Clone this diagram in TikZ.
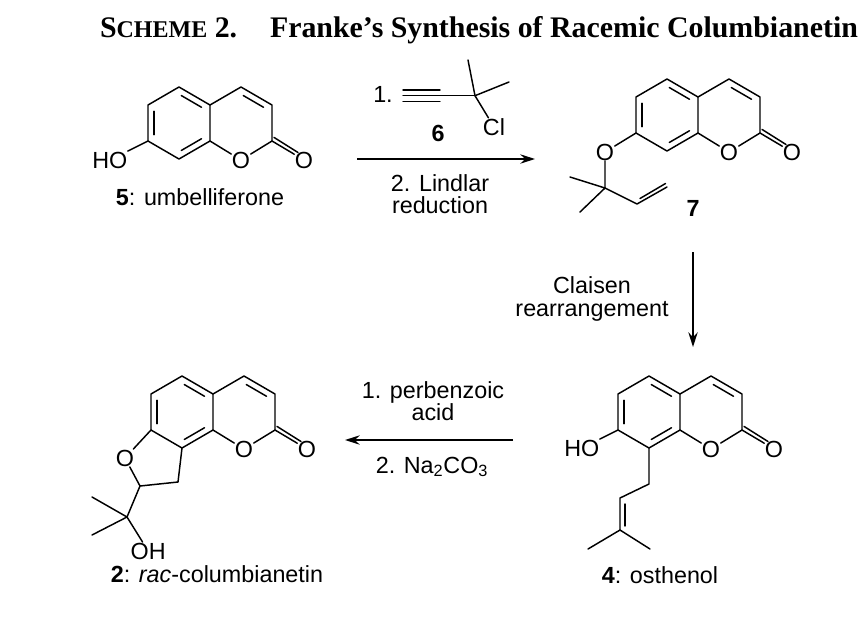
\documentclass[tikz,border=0pt]{standalone}
\usepackage{fontspec}
\setmainfont{Liberation Sans}
\newfontfamily\titlefont{Liberation Serif}
\usetikzlibrary{calc,arrows.meta}
\tikzset{
  bond/.style={line width=1.1pt,line cap=round,line join=round},
  inb/.style={bond,shorten <=2pt,shorten >=2pt},
  atom/.style={inner sep=0.3pt,font=\fontsize{17.5pt}{17pt}\selectfont},
  lbl/.style={inner sep=1pt,font=\fontsize{17.5pt}{17pt}\selectfont,align=center},
  rxn/.style={line width=1.1pt,-{Stealth[length=11pt,width=7pt]}}
}
\newcommand\coum[3]{%
 \coordinate (#1a4) at (#2,#3-18);
 \coordinate (#1a8) at (#2,#3+18);
 \coordinate (#1c5) at (#2-31,#3-36);
 \coordinate (#1c6) at (#2-62,#3-18);
 \coordinate (#1c7) at (#2-62,#3+18);
 \coordinate (#1c8) at (#2-31,#3+36);
 \coordinate (#1c4) at (#2+31,#3-36);
 \coordinate (#1c3) at (#2+62,#3-18);
 \coordinate (#1c2) at (#2+62,#3+18);
 \coordinate (#1cl) at (#2-31,#3);
 \coordinate (#1cr) at (#2+31,#3);
 \node[atom] (#1o1) at (#2+31,#3+37) {O};
 \node[atom] (#1oe) at (#2+94,#3+37) {O};
 \draw[bond] (#1a4)--(#1c5)--(#1c6)--(#1c7)--(#1c8)--(#1a8)--cycle;
 \draw[bond] (#1a4)--(#1c4)--(#1c3)--(#1c2)--(#1o1)--(#1a8);
 \draw[bond] (#1c2)--(#1oe);
 \draw[bond] ($(#1c2)+(2,-3.6)$)--($(#1oe)+(-6,-7.5)$);
 \draw[inb] ($(#1c6)!0.2!(#1cl)$)--($(#1c7)!0.2!(#1cl)$);
 \draw[inb] ($(#1c5)!0.2!(#1cl)$)--($(#1a4)!0.2!(#1cl)$);
 \draw[inb] ($(#1c8)!0.2!(#1cl)$)--($(#1a8)!0.2!(#1cl)$);
 \draw[inb] ($(#1c4)!0.2!(#1cr)$)--($(#1c3)!0.2!(#1cr)$);
}
\begin{document}
\begin{tikzpicture}[x=0.75pt,y=-0.75pt]
\useasboundingbox (0,0) rectangle (866,622);
% title
\node[inner sep=0pt,font=\titlefont\bfseries\fontsize{22.4pt}{26pt}\selectfont] (title) at (479,30)
  {S{\fontsize{18pt}{20pt}\selectfont CHEME} 2.\hspace{1.1em}Franke’s Synthesis of Racemic Columbianetin};
% compound 5
\coum{a}{210}{123}
\node[atom,anchor=east] (aho) at (128,160) {HO};
\draw[bond] (ac7)--(aho);
\node[lbl] (acap) at (200,197) {\textbf{5}: umbelliferone};
% reagents top
\node[lbl] (r1) at (383,94) {1.};
\coordinate (t1) at (403,95.7);
\coordinate (tq) at (475,95.7);
\coordinate (tm1) at (468,60);
\coordinate (tm2) at (509,82);
\draw[bond] (t1)--(tq);
\draw[bond] ($(t1)+(0,-5.8)$)--($(t1)+(37,-5.8)$);
\draw[bond] ($(t1)+(0,5.8)$)--($(t1)+(37,5.8)$);
\draw[bond] (tq)--(tm1);
\draw[bond] (tq)--(tm2);
\node[atom] (tcl) at (494,127) {Cl};
\draw[bond] (tq)--(tcl);
\node[lbl] (six) at (438,133) {\textbf{6}};
\coordinate (ar1s) at (357,159);
\coordinate (ar1e) at (535,159);
\draw[rxn] (ar1s)--(ar1e);
\node[lbl] (r2) at (440,194) {2. Lindlar\\reduction};
% compound 7
\coum{b}{698}{115}
\node[atom] (bo) at (605,152) {O};
\coordinate (bq) at (605,188);
\coordinate (bm1) at (570,177);
\coordinate (bm2) at (580,212);
\coordinate (bv1) at (637,204);
\coordinate (bv2) at (667,187);
\draw[bond] (bc7)--(bo)--(bq);
\draw[bond] (bm1)--(bq)--(bm2);
\draw[bond] (bq)--(bv1)--(bv2);
\draw[bond] ($(bv1)+(3,-5.5)$)--($(bv2)+(-1.5,-3.5)$);
\node[lbl] (seven) at (693,208) {\textbf{7}};
% vertical arrow
\coordinate (ar2s) at (693,252);
\coordinate (ar2e) at (693,347);
\draw[rxn] (ar2s)--(ar2e);
\node[lbl] (claisen) at (592,299) {Claisen\\rearrangement};
% compound 4
\coum{d}{680}{412}
\node[atom,anchor=east] (dho) at (600,448) {HO};
\draw[bond] (dc7)--(dho);
\coordinate (dp1) at (649,484);
\coordinate (dp2) at (620,498);
\coordinate (dp3) at (620,530);
\coordinate (dm1) at (588,549);
\coordinate (dm2) at (650,549);
\draw[bond] (dc8)--(dp1)--(dp2)--(dp3)--(dm1);
\draw[bond] (dp3)--(dm2);
\draw[bond] ($(dp2)+(5,6)$)--($(dp3)+(5,-4)$);
\node[lbl] (dcap) at (660,575) {\textbf{4}: osthenol};
% bottom arrow
\coordinate (ar3s) at (513,440);
\coordinate (ar3e) at (345,440);
\draw[rxn] (ar3s)--(ar3e);
\node[lbl] (r3) at (433,401) {1. perbenzoic\\acid};
\node[lbl] (r4) at (432,467) {2. Na\textsubscript{2}CO\textsubscript{3}};
% compound 2
\coum{e}{213}{412}
\node[atom] (eo) at (125,458) {O};
\coordinate (ech) at (140,486);
\coordinate (ech2) at (178,482);
\coordinate (eq) at (127,517);
\coordinate (em1) at (92,497);
\coordinate (em2) at (92,535);
\node[atom,anchor=west] (eoh) at (130,551) {OH};
\draw[bond] (ec7)--(eo)--(ech)--(ech2)--(ec8);
\draw[bond] (ech)--(eq)--(eoh);
\draw[bond] (em1)--(eq)--(em2);
\node[lbl] (ecap) at (217,574) {\textbf{2}: \textit{rac}-columbianetin};
\end{tikzpicture}
\end{document}
